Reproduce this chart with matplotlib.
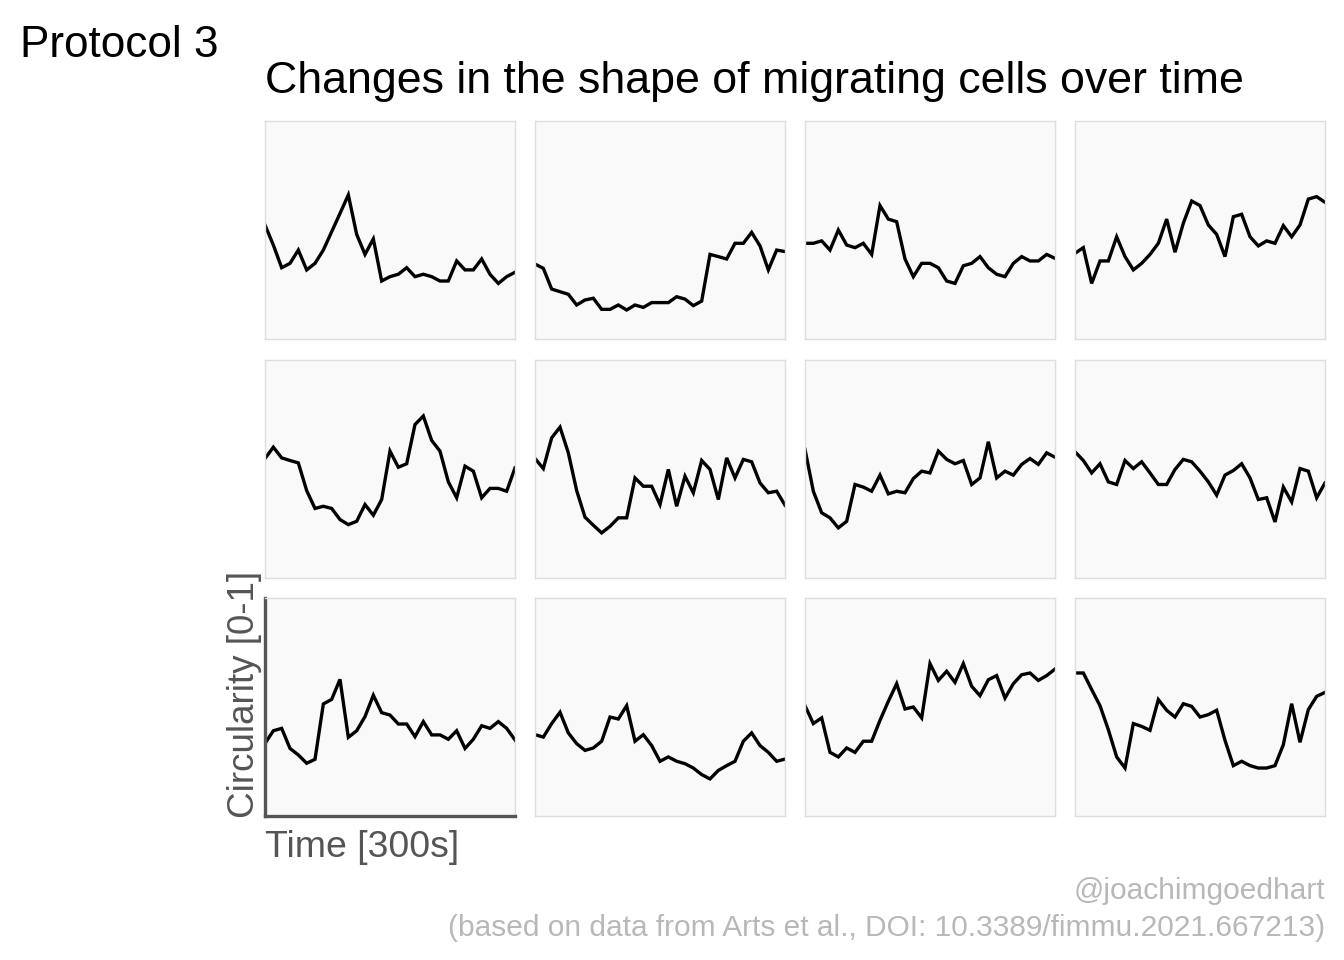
import numpy as np
import matplotlib
matplotlib.use("Agg")
import matplotlib.pyplot as plt

plt.rcParams['font.family'] = ['Liberation Sans', 'DejaVu Sans']

# time index (31 frames, 300 s apart)
time = np.arange(31)

# circularity per cell
cell_01 = [0.523, 0.431, 0.327, 0.347, 0.408, 0.317, 0.347, 0.408, 0.492, 0.576, 0.661,
           0.480, 0.388, 0.459, 0.266, 0.286, 0.297, 0.327, 0.286, 0.297, 0.286,
           0.266, 0.266, 0.358, 0.317, 0.317, 0.367, 0.297, 0.255, 0.286, 0.306]
cell_02 = [0.344, 0.324, 0.229, 0.217, 0.205, 0.156, 0.179, 0.187, 0.136, 0.136, 0.156,
           0.133, 0.156, 0.145, 0.167, 0.167, 0.167, 0.194, 0.183, 0.153, 0.174,
           0.388, 0.378, 0.367, 0.439, 0.439, 0.489, 0.427, 0.317, 0.408, 0.401]
cell_03 = [0.439, 0.439, 0.450, 0.408, 0.500, 0.431, 0.419, 0.439, 0.388, 0.612, 0.550,
           0.538, 0.367, 0.286, 0.347, 0.347, 0.327, 0.266, 0.255, 0.336, 0.347,
           0.378, 0.327, 0.297, 0.286, 0.347, 0.378, 0.358, 0.358, 0.388, 0.370]
cell_04 = [0.393, 0.419, 0.255, 0.358, 0.358, 0.469, 0.378, 0.317, 0.347, 0.388, 0.439,
           0.550, 0.398, 0.531, 0.633, 0.612, 0.523, 0.480, 0.378, 0.561, 0.572,
           0.469, 0.427, 0.450, 0.439, 0.520, 0.469, 0.523, 0.642, 0.653, 0.627]
cell_05 = [0.548, 0.600, 0.551, 0.539, 0.528, 0.401, 0.319, 0.329, 0.319, 0.268, 0.245,
           0.260, 0.337, 0.288, 0.360, 0.582, 0.508, 0.524, 0.704, 0.743, 0.631,
           0.582, 0.441, 0.368, 0.513, 0.490, 0.368, 0.411, 0.411, 0.398, 0.505]
cell_06 = [0.548, 0.502, 0.643, 0.692, 0.574, 0.401, 0.279, 0.242, 0.207, 0.237, 0.276,
           0.276, 0.459, 0.421, 0.421, 0.337, 0.498, 0.329, 0.467, 0.391, 0.539,
           0.498, 0.360, 0.551, 0.459, 0.544, 0.533, 0.436, 0.391, 0.398, 0.334]
cell_07 = [0.590, 0.398, 0.299, 0.276, 0.230, 0.260, 0.429, 0.417, 0.398, 0.472, 0.386,
           0.398, 0.391, 0.456, 0.490, 0.482, 0.582, 0.544, 0.524, 0.539, 0.429,
           0.459, 0.625, 0.459, 0.490, 0.472, 0.521, 0.548, 0.521, 0.574, 0.554]
cell_08 = [0.579, 0.539, 0.482, 0.524, 0.441, 0.429, 0.539, 0.502, 0.533, 0.482, 0.429,
           0.429, 0.498, 0.544, 0.533, 0.490, 0.441, 0.380, 0.472, 0.493, 0.524,
           0.459, 0.360, 0.368, 0.257, 0.417, 0.349, 0.502, 0.490, 0.368, 0.436]
cell_09 = [0.333, 0.391, 0.402, 0.310, 0.280, 0.242, 0.260, 0.514, 0.535, 0.627, 0.361,
           0.391, 0.456, 0.554, 0.474, 0.463, 0.422, 0.422, 0.364, 0.433, 0.372,
           0.372, 0.352, 0.391, 0.310, 0.352, 0.414, 0.402, 0.433, 0.402, 0.349]
cell_10 = [0.373, 0.362, 0.424, 0.476, 0.381, 0.332, 0.301, 0.312, 0.343, 0.454, 0.445,
           0.506, 0.343, 0.373, 0.323, 0.251, 0.271, 0.251, 0.240, 0.220, 0.190,
           0.170, 0.209, 0.231, 0.251, 0.343, 0.381, 0.323, 0.292, 0.251, 0.261]
cell_11 = [0.506, 0.424, 0.450, 0.292, 0.271, 0.312, 0.292, 0.343, 0.343, 0.439, 0.526,
           0.607, 0.491, 0.500, 0.450, 0.699, 0.622, 0.664, 0.613, 0.699, 0.595,
           0.552, 0.625, 0.644, 0.541, 0.607, 0.648, 0.656, 0.622, 0.644, 0.674]
cell_12 = [0.656, 0.656, 0.580, 0.506, 0.396, 0.271, 0.220, 0.424, 0.411, 0.393, 0.534,
           0.485, 0.454, 0.515, 0.503, 0.454, 0.465, 0.485, 0.347, 0.231, 0.251,
           0.231, 0.220, 0.220, 0.231, 0.327, 0.515, 0.338, 0.488, 0.549, 0.567]

cells = [cell_01, cell_02, cell_03, cell_04, cell_05, cell_06,
         cell_07, cell_08, cell_09, cell_10, cell_11, cell_12]

W, H = 1344, 960
fig = plt.figure(figsize=(W / 100, H / 100), dpi=100)

col_left = [265, 535, 805, 1075]
row_top = [121, 360, 598]
pw, ph = 250, 218

axis_grey = '#555555'

for k, vals in enumerate(cells):
    r, c = divmod(k, 4)
    x0, y0 = col_left[c], row_top[r]
    ax = fig.add_axes([x0 / W, 1 - (y0 + ph) / H, pw / W, ph / H])
    ax.set_facecolor('#f9f9f9')
    ax.plot(time, vals, color='black', lw=2.4, solid_joinstyle='miter')
    ax.set_xlim(time[0], time[-1])
    ax.set_ylim(0, 1)
    ax.set_xticks([])
    ax.set_yticks([])
    for s in ax.spines.values():
        s.set_color('#dedede')
        s.set_linewidth(1.0)
    if k == 8:
        # only the bottom-left panel carries axis lines and labels
        for side in ('left', 'bottom'):
            ax.spines[side].set_color(axis_grey)
            ax.spines[side].set_linewidth(2.4)

fig.text(245 / W, 1 - 818 / H, 'Circularity [0-1]', rotation=90, ha='center',
         va='bottom', fontsize=26.5, color=axis_grey)
fig.text(265 / W, 1 - 857 / H, 'Time [300s]', ha='left', va='baseline',
         fontsize=26.9, color=axis_grey)

fig.text(20 / W, 1 - 57 / H, 'Protocol 3', ha='left', va='baseline', fontsize=31.8)
fig.text(265 / W, 1 - 93 / H, 'Changes in the shape of migrating cells over time',
         ha='left', va='baseline', fontsize=32.2)

fig.text(1325 / W, 1 - 899 / H, '@joachimgoedhart', ha='right', va='baseline',
         fontsize=21.5, color='#b8b8b8')
fig.text(1325 / W, 1 - 936 / H,
         '(based on data from Arts et al., DOI: 10.3389/fimmu.2021.667213)',
         ha='right', va='baseline', fontsize=21.5, color='#b8b8b8')

fig.savefig('out.png', dpi=100, facecolor='white')
